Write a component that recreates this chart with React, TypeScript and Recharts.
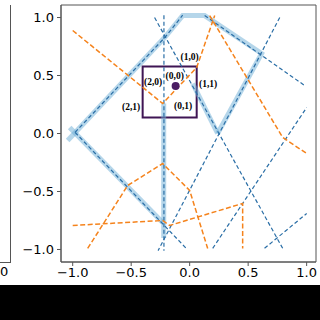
import React from "react"
import {
  ComposedChart,
  Line,
  Scatter,
  XAxis,
  YAxis,
  ReferenceArea,
} from "recharts"

const xTicks = [-1, -0.5, 0, 0.5, 1]
const yTicks = [-1, -0.5, 0, 0.5, 1]

// first-layer boundaries (blue dashed)
const blueA = [{ x: -0.98, y: 0.01 }, { x: -0.21, y: 0.83 }, { x: -0.06, y: 1.02 }]
const blueB = [{ x: -0.98, y: 0.01 }, { x: -0.03, y: -0.99 }]
const blueC = [{ x: -0.22, y: 1.02 }, { x: -0.22, y: -1.01 }]
const blueD = [{ x: -0.3, y: 1.0 }, { x: 0.795, y: -0.99 }]
const blueE = [{ x: 0.77, y: 1.0 }, { x: -0.27, y: -1.01 }]
const blueF = [{ x: 0.197, y: -0.99 }, { x: 1.0, y: 0.224 }]
const blueG = [{ x: 0.64, y: -0.99 }, { x: 1.0, y: -0.69 }]
const blueH = [{ x: 0.128, y: 1.017 }, { x: 0.983, y: 0.414 }]

// second-layer boundaries (orange dashed, bent)
const orangeA = [{ x: -1.0, y: 0.888 }, { x: -0.231, y: 0.259 }, { x: 0.06, y: 0.569 }, { x: 0.214, y: 1.017 }]
const orangeB = [{ x: 0.171, y: 1.017 }, { x: 0.795, y: -0.034 }, { x: 1.0, y: -0.172 }]
const orangeC = [
  { x: -0.872, y: -0.991 }, { x: -0.53, y: -0.448 }, { x: -0.231, y: -0.259 },
  { x: 0, y: -0.491 }, { x: 0.154, y: -0.991 },
]
const orangeD = [
  { x: -1.0, y: -0.793 }, { x: -0.231, y: -0.75 }, { x: -0.171, y: -0.793 },
  { x: 0.453, y: -0.603 }, { x: 0.453, y: -0.991 },
]

// highlighted path (light blue, thick)
const hlA = [
  { x: -1.043, y: -0.06 }, { x: -0.214, y: 0.828 }, { x: -0.06, y: 1.017 },
  { x: 0.128, y: 1.017 }, { x: 0.615, y: 0.69 }, { x: 0.239, y: 0.0 },
]
const hlB = [{ x: 0.026, y: 0.431 }, { x: 0.239, y: 0.0 }]
const hlC = [{ x: -1.026, y: 0.052 }, { x: -0.231, y: -0.767 }]
const hlD = [{ x: -0.222, y: 0.259 }, { x: -0.222, y: -0.9 }]

const boxX = [-0.402, 0.06]
const boxY = [0.138, 0.578]
const point = [{ x: -0.12, y: 0.41 }]

const cellLabels = [
  { x: -0.128, y: 0.5, label: "(0,0)" },
  { x: 0.0, y: 0.66, label: "(1,0)" },
  { x: 0.158, y: 0.427, label: "(1,1)" },
  { x: -0.056, y: 0.241, label: "(0,1)" },
  { x: -0.312, y: 0.444, label: "(2,0)" },
  { x: -0.5, y: 0.228, label: "(2,1)" },
]

const blues = [blueA, blueB, blueC, blueD, blueE, blueF, blueG, blueH]
const oranges = [orangeA, orangeB, orangeC, orangeD]
const highlights = [hlA, hlB, hlC, hlD]

const fmt = (v: number) => v.toFixed(1).replace("-", "\u2212")
const tickStyle = { fontFamily: "DejaVu Sans", fontSize: 13, fill: "#000" }
const purple = "#3f1554"

export default function App() {
  return (
    <div style={{ position: "fixed", left: 0, top: 0, width: 320, height: 320, background: "#fff", overflow: "hidden" }}>
      {/* edge of the neighbouring panel */}
      <div style={{ position: "absolute", left: 0, top: 5, width: 10, height: 257, borderRight: "1px solid #555", borderBottom: "1px solid #555" }} />
      <div style={{ position: "absolute", left: 0, top: 264, fontFamily: "DejaVu Sans", fontSize: 13, lineHeight: "15px" }}>0</div>

      <div style={{ position: "absolute", left: 0, top: 0 }}>
        <ComposedChart width={320} height={285} margin={{ top: 5, right: 4, bottom: 0, left: 0 }}>
          <XAxis
            dataKey="x"
            type="number"
            domain={[-1.1, 1.08]}
            allowDataOverflow
            ticks={xTicks}
            tickFormatter={fmt}
            tick={tickStyle}
            tickSize={4}
            tickMargin={2}
            height={23}
            stroke="#555"
          />
          <YAxis
            dataKey="y"
            type="number"
            domain={[-1.108, 1.108]}
            allowDataOverflow
            ticks={yTicks}
            tickFormatter={fmt}
            tick={tickStyle}
            tickSize={4}
            tickMargin={3}
            width={61}
            stroke="#555"
          />
          <ReferenceArea x1={-1.1} x2={1.08} y1={-1.108} y2={1.108} fill="none" stroke="#555" strokeWidth={1} />
          {highlights.map((d, i) => (
            <Line key={"h" + i} data={d} dataKey="y" type="linear" dot={false} stroke="#6baed6" strokeOpacity={0.5} strokeWidth={5} isAnimationActive={false} />
          ))}
          {blues.map((d, i) => (
            <Line key={"b" + i} data={d} dataKey="y" type="linear" dot={false} stroke="#2a6ea6" strokeWidth={1.2} strokeDasharray="4 2.5" isAnimationActive={false} />
          ))}
          {oranges.map((d, i) => (
            <Line key={"o" + i} data={d} dataKey="y" type="linear" dot={false} stroke="#f5831c" strokeWidth={1.5} strokeDasharray="5 2.5" isAnimationActive={false} />
          ))}
          <ReferenceArea x1={boxX[0]} x2={boxX[1]} y1={boxY[0]} y2={boxY[1]} fill="none" stroke={purple} strokeWidth={2} strokeOpacity={1} />
          <Scatter data={point} fill={purple} isAnimationActive={false} shape={(p: any) => <circle cx={p.cx} cy={p.cy} r={4} fill="#4b1d63" />} />
          <Scatter
            data={cellLabels}
            isAnimationActive={false}
            shape={(p: any) => (
              <text x={p.cx} y={p.cy} dy="0.35em" textAnchor="middle" fontFamily="Liberation Serif" fontWeight="bold" fontSize={9.5} fill="#000">
                {p.payload.label}
              </text>
            )}
          />
        </ComposedChart>
      </div>
      <div style={{ position: "absolute", left: 0, top: 285, width: 320, height: 35, background: "#000" }} />
    </div>
  )
}
